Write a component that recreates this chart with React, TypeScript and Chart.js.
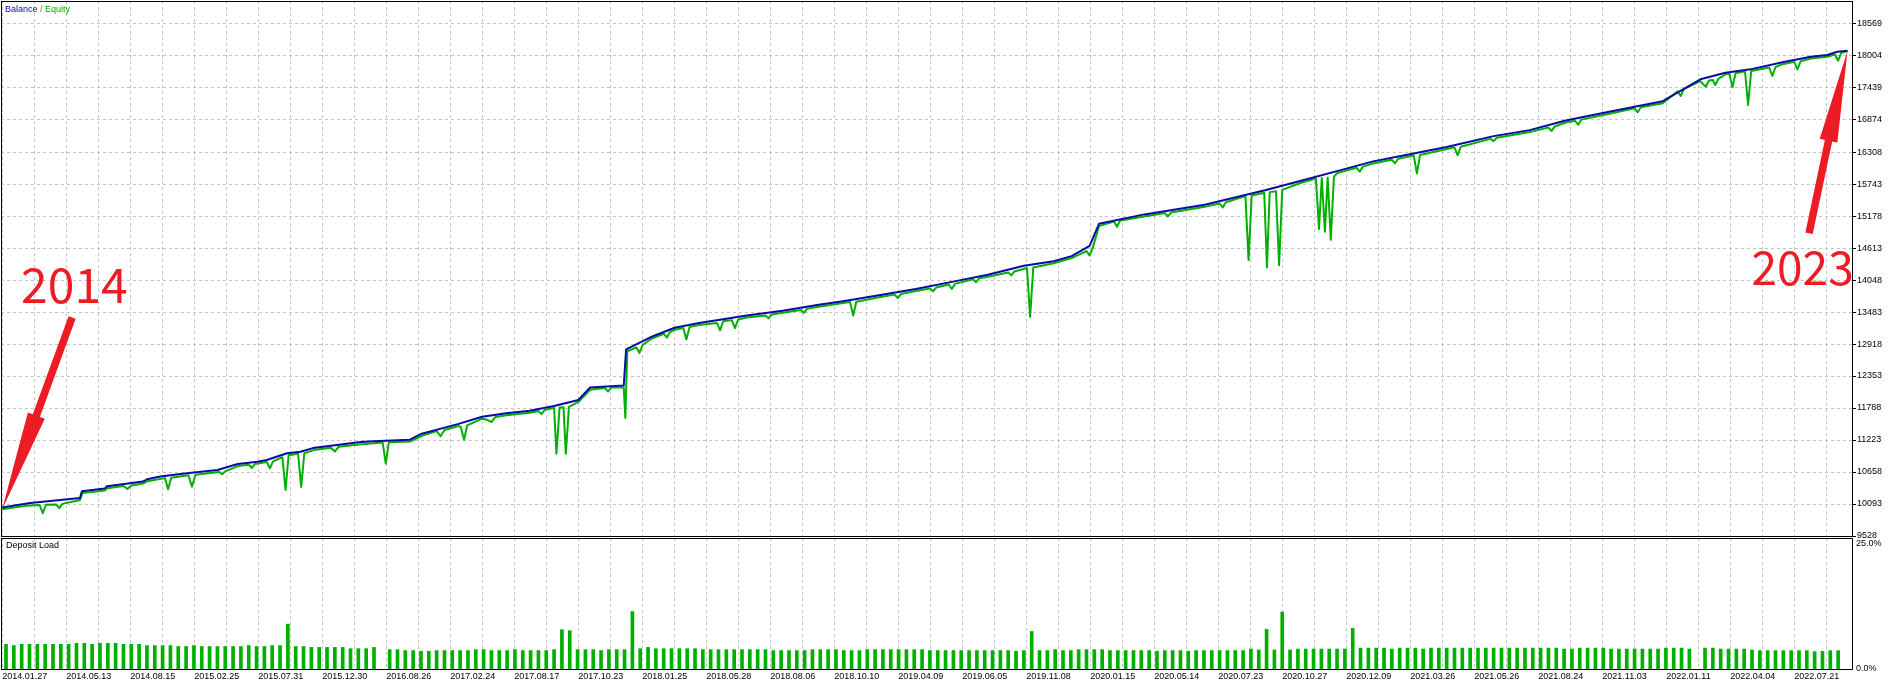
import React, { useEffect, useRef } from "react";
import { Chart, registerables } from "chart.js";

Chart.register(...registerables);

// ---------------- data ----------------
const yTickValues = [9528, 10093, 10658, 11223, 11788, 12353, 12918, 13483, 14048, 14613, 15178, 15743, 16308, 16874, 17439, 18004, 18569];
const loadTickValues = [0, 25];
const dateLabels = [
  "2014.01.27", "2014.05.13", "2014.08.15", "2015.02.25", "2015.07.31", "2015.12.30", "2016.08.26", "2017.02.24",
  "2017.08.17", "2017.10.23", "2018.01.25", "2018.05.28", "2018.08.06", "2018.10.10", "2019.04.09", "2019.06.05",
  "2019.11.08", "2020.01.15", "2020.05.14", "2020.07.23", "2020.10.27", "2020.12.09", "2021.03.26", "2021.05.26",
  "2021.08.24", "2021.11.03", "2022.01.11", "2022.04.04", "2022.07.21",
];

// [deal position, balance]
const balance: [number, number][] = [
  [-0.5, 10030], [3.1, 10110], [9.45, 10200], [9.7, 10320], [12.6, 10365], [12.9, 10405], [17.5, 10490], [18.0, 10530],
  [19.7, 10580], [23.1, 10635], [27.0, 10693], [29.6, 10800], [32.1, 10840], [33.3, 10870], [35.9, 10988], [37.6, 11017],
  [39.2, 11080], [45.3, 11186], [46.9, 11200], [51.6, 11228], [53.1, 11334], [57.7, 11504], [60.8, 11633], [63.9, 11696],
  [66.9, 11739], [70.0, 11824], [73.1, 11930], [74.6, 12150], [78.9, 12185], [79.2, 12823], [82.3, 13037], [85.4, 13206],
  [88.5, 13291], [91.6, 13356], [94.6, 13420], [99.2, 13505], [103.8, 13610], [106.9, 13674], [111.5, 13780], [116.2, 13888],
  [120.8, 14015], [125.4, 14140], [130.0, 14300], [133.8, 14380], [136.1, 14470], [138.4, 14651], [139.6, 15040], [145.4, 15207],
  [153.1, 15376], [160.8, 15632], [165.4, 15802], [170.0, 15971], [174.6, 16143], [179.3, 16270], [184.0, 16397], [190.0, 16589],
  [194.6, 16695], [199.2, 16865], [205.4, 17036], [211.6, 17206], [216.4, 17592], [219.6, 17709], [222.8, 17768], [226.9, 17893],
  [230.5, 17992], [232.6, 18021], [233.9, 18080], [235.2, 18098],
];

// [deal position, equity]
const equity: [number, number][] = [
  [-0.5, 10000], [2.5, 10060], [4.3, 10075], [4.7, 9930], [5.1, 10080], [6.4, 10085], [6.8, 10020], [7.2, 10095],
  [9.45, 10165], [9.75, 10285], [12.6, 10330], [12.95, 10370], [15.0, 10410], [15.5, 10360], [16.0, 10420], [17.5, 10455],
  [18.05, 10495], [20.3, 10550], [20.7, 10353], [21.1, 10555], [23.3, 10600], [23.75, 10400], [24.2, 10610], [27.2, 10660],
  [27.6, 10620], [28.0, 10670], [29.7, 10765], [31.0, 10785], [31.4, 10730], [31.8, 10800], [33.3, 10835], [33.7, 10725],
  [34.1, 10845], [35.3, 10920], [35.7, 10340], [36.1, 10955], [37.3, 10980], [37.7, 10393], [38.1, 10990], [39.3, 11045],
  [41.5, 11085], [42.0, 11020], [42.5, 11105], [45.4, 11150], [47.0, 11165], [48.1, 11180], [48.5, 10805], [48.9, 11185],
  [51.6, 11195], [53.2, 11300], [55.0, 11380], [55.5, 11290], [56.0, 11400], [57.8, 11470], [58.1, 11450], [58.5, 11228],
  [58.9, 11480], [60.8, 11600], [61.5, 11580], [62.0, 11540], [62.5, 11630], [63.9, 11660], [66.9, 11705], [68.0, 11735],
  [68.4, 11680], [68.8, 11755], [70.0, 11790], [70.3, 10980], [70.7, 11795], [71.2, 11800], [71.5, 10980], [71.9, 11810],
  [73.1, 11895], [74.6, 12110], [76.5, 12140], [76.9, 12080], [77.3, 12150], [78.9, 12150], [79.1, 11612], [79.35, 12790],
  [80.5, 12860], [80.9, 12760], [81.3, 12900], [82.3, 13000], [84.0, 13100], [84.4, 13030], [84.8, 13130], [85.4, 13170],
  [86.5, 13200], [86.9, 13000], [87.3, 13220], [88.5, 13255], [90.8, 13290], [91.2, 13160], [91.6, 13320], [92.7, 13340],
  [93.1, 13200], [93.5, 13350], [94.6, 13385], [97.0, 13420], [97.4, 13370], [97.8, 13440], [99.2, 13470], [101.5, 13520],
  [101.9, 13470], [102.3, 13540], [103.8, 13575], [106.9, 13640], [107.8, 13660], [108.2, 13420], [108.6, 13665], [111.5, 13745],
  [113.5, 13790], [113.9, 13730], [114.3, 13800], [116.2, 13853], [118.0, 13900], [118.4, 13850], [118.8, 13915], [120.4, 13970],
  [120.8, 13890], [121.2, 13980], [123.5, 14060], [123.9, 14010], [124.3, 14080], [125.4, 14105], [128.0, 14180], [128.4, 14130],
  [128.8, 14200], [130.4, 14260], [130.8, 13400], [131.2, 14270], [133.8, 14345], [136.1, 14435], [138.0, 14560], [138.4, 14480],
  [138.8, 14620], [139.6, 15000], [141.5, 15080], [141.9, 14990], [142.3, 15100], [145.4, 15170], [148.0, 15230], [148.4, 15170],
  [148.8, 15240], [153.1, 15340], [155.0, 15400], [155.4, 15330], [155.8, 15420], [158.3, 15530], [158.7, 14400], [159.1, 15540],
  [160.7, 15590], [161.05, 14270], [161.4, 15600], [162.2, 15615], [162.6, 14310], [163.0, 15640], [165.4, 15765], [167.3, 15840],
  [167.7, 14950], [168.05, 15850], [168.45, 14900], [168.8, 15860], [169.2, 14760], [169.6, 15870], [170.0, 15935], [172.5, 16030],
  [172.9, 15960], [173.3, 16050], [174.6, 16105], [177.0, 16170], [177.4, 16110], [177.8, 16190], [179.3, 16232], [179.8, 16245],
  [180.2, 15930], [180.6, 16255], [184.0, 16360], [185.0, 16390], [185.4, 16250], [185.8, 16400], [189.6, 16540], [190.0, 16500],
  [190.4, 16560], [194.6, 16660], [197.0, 16740], [197.4, 16680], [197.8, 16760], [199.2, 16830], [200.4, 16860], [200.8, 16790],
  [201.2, 16880], [205.4, 17000], [208.0, 17080], [208.4, 17010], [208.8, 17100], [211.6, 17170], [213.5, 17380], [213.9, 17300],
  [214.3, 17420], [216.4, 17560], [217.1, 17462], [217.5, 17570], [218.0, 17580], [218.3, 17492], [218.7, 17600], [219.6, 17680],
  [220.1, 17690], [220.5, 17451], [220.9, 17700], [222.1, 17735], [222.5, 17139], [222.9, 17740], [225.2, 17800], [225.6, 17651],
  [226.0, 17810], [226.9, 17860], [228.4, 17900], [228.8, 17768], [229.2, 17910], [230.5, 17960], [232.6, 17990], [233.6, 18030],
  [234.0, 17921], [234.4, 18060], [235.2, 18090],
];

// deposit load in %, one value per deal slot (null = no bar)
const depositLoad: (number | null)[] = [
  4.9, 4.65, 4.9, 4.9, 4.9, 4.9, 4.9, 4.9, 4.9, 5.1,
  5.1, 4.9, 5.1, 5.1, 5.1, 4.9, 4.9, 4.9, 4.65, 4.65,
  4.65, 4.65, 4.46, 4.46, 4.65, 4.46, 4.46, 4.46, 4.46, 4.46,
  4.46, 4.65, 4.46, 4.46, 4.65, 4.65, 8.9, 4.46, 4.46, 4.28,
  4.28, 4.28, 4.28, 4.28, 4.03, 4.03, 4.03, 4.28, null, 3.84,
  3.84, 3.66, 3.66, 3.53, 3.53, 3.66, 3.66, 3.66, 3.66, 3.66,
  3.84, 3.84, 3.66, 3.66, 3.66, 3.84, 3.66, 3.66, 3.66, 3.66,
  3.84, 7.8, 7.6, 3.84, 3.84, 3.84, 3.66, 3.84, 3.84, 3.84,
  11.4, 4.03, 4.28, 4.03, 4.03, 4.03, 4.03, 4.03, 4.03, 3.84,
  3.84, 3.84, 3.84, 3.84, 3.84, 3.84, 3.84, 3.84, 3.66, 3.66,
  3.66, 3.66, 3.66, 3.84, 3.84, 3.84, 3.84, 3.66, 3.66, 3.66,
  3.84, 3.84, 3.84, 3.84, 3.84, 3.84, 3.84, 3.84, 3.66, 3.66,
  3.66, 3.66, 3.66, 3.66, 3.66, 3.66, 3.66, 3.66, 3.66, 3.53,
  3.66, 7.44, 3.66, 3.66, 3.84, 3.66, 3.66, 3.84, 3.84, 3.84,
  3.84, 3.66, 3.66, 3.66, 3.66, 3.66, 3.66, 3.53, 3.66, 3.66,
  3.66, 3.53, 3.66, 3.66, 3.66, 3.66, 3.66, 3.66, 3.66, 3.96,
  3.77, 7.86, 3.77, 11.3, 3.77, 3.96, 3.96, 3.96, 3.96, 3.96,
  3.96, 3.96, 8.05, 4.15, 4.15, 4.15, 4.15, 3.96, 4.15, 4.15,
  4.15, 3.96, 4.15, 4.15, 4.15, 4.15, 4.15, 4.15, 4.15, 4.15,
  4.15, 4.15, 4.15, 4.15, 4.15, 4.15, 4.15, 4.15, 4.15, 3.96,
  3.96, 4.15, 4.15, 4.15, 4.15, 3.96, 3.96, 3.96, 3.96, 3.96,
  3.96, 3.96, 4.15, 4.15, 4.15, 3.96, null, 4.15, 4.15, 3.96,
  3.96, 3.96, 3.96, 3.77, 3.64, 3.64, 3.64, 3.64, 3.64, 3.64,
  3.64, 3.45, 3.51, 3.64, 3.64,
];

// ---------------- layout / style ----------------
const W = 1889;
const TOP_H = 541;
const PLOT_BOTTOM = 536;
const BOT_TOP = 537;
const BOT_H = 146;
const AXIS_W = 37;
const AREA_W = 1851;
const GRID_PX = 32;
const GRID_OFF_PX = 1.3;

const X_MIN = -0.64;
const X_MAX = 235.77;
const Y_MIN = 9528;
const Y_MAX = 18975;
const LOAD_MAX = 26;

const FONT = "'Liberation Sans', Arial, sans-serif";
const BLUE = "#0a0aa8";
const GREEN = "#00b000";
const SLASH = "#c07000";
const RED = "#ed1c24";
const GRID = "#c4c4c4";
const DASH = [3, 3];

const unitsPerPx = (X_MAX - X_MIN) / AREA_W;
const gridValues: number[] = [];
for (let k = 0; ; k++) {
  const v = X_MIN + (GRID_OFF_PX + GRID_PX * k) * unitsPerPx;
  if (v > X_MAX) break;
  gridValues.push(v);
}

function xScale(showLabels: boolean, height: number) {
  return {
    type: "linear" as const,
    min: X_MIN,
    max: X_MAX,
    offset: false,
    afterBuildTicks: (s: any) => {
      s.ticks = gridValues.map((v) => ({ value: v }));
    },
    afterFit: (s: any) => {
      s.height = height;
      s.paddingLeft = 0;
      s.paddingRight = 0;
    },
    grid: { display: true, color: GRID, lineWidth: 1, drawTicks: false, offset: false },
    border: { display: false, dash: DASH },
    ticks: {
      display: showLabels,
      autoSkip: false,
      maxRotation: 0,
      minRotation: 0,
      align: "start" as const,
      padding: 2,
      color: "#000",
      font: { family: FONT, size: 9 },
      callback: (_v: any, i: number) => (i % 2 === 0 ? dateLabels[i / 2] ?? "" : ""),
    },
  };
}

function drawArrow(ctx: CanvasRenderingContext2D, sx: number, sy: number, tx: number, ty: number, w: number, hl: number, hw: number) {
  const dx = tx - sx;
  const dy = ty - sy;
  const len = Math.hypot(dx, dy);
  const ux = dx / len;
  const uy = dy / len;
  const nx = -uy;
  const ny = ux;
  const bx = tx - ux * hl;
  const by = ty - uy * hl;
  ctx.beginPath();
  ctx.moveTo(sx + nx * w / 2, sy + ny * w / 2);
  ctx.lineTo(bx + nx * w / 2, by + ny * w / 2);
  ctx.lineTo(bx + nx * hw, by + ny * hw);
  ctx.lineTo(tx, ty);
  ctx.lineTo(bx - nx * hw, by - ny * hw);
  ctx.lineTo(bx - nx * w / 2, by - ny * w / 2);
  ctx.lineTo(sx - nx * w / 2, sy - ny * w / 2);
  ctx.closePath();
  ctx.fill();
}

const topDecor = {
  id: "topDecor",
  afterDraw(chart: any) {
    const { ctx, chartArea: a, scales } = chart;
    ctx.save();
    ctx.strokeStyle = "#000";
    ctx.lineWidth = 1;
    ctx.strokeRect(a.left + 0.5, a.top + 0.5, a.right - a.left, a.bottom - a.top);

    ctx.font = `9px ${FONT}`;
    ctx.textBaseline = "middle";
    ctx.textAlign = "left";
    let x = a.left + 4;
    const y = a.top + 9;
    const parts: [string, string][] = [["Balance", BLUE], [" / ", SLASH], ["Equity", GREEN]];
    for (const [t, c] of parts) {
      ctx.fillStyle = c;
      ctx.fillText(t, x, y);
      x += ctx.measureText(t).width;
    }

    // red annotations anchored at first and last balance points
    const first = balance[0];
    const last = balance[balance.length - 1];
    const t1x = scales.x.getPixelForValue(first[0]);
    const t1y = scales.y.getPixelForValue(first[1]) + 2;
    const t2x = scales.x.getPixelForValue(last[0]);
    const t2y = scales.y.getPixelForValue(last[1]);
    ctx.fillStyle = RED;
    drawArrow(ctx, t1x + 70, t1y - 192, t1x, t1y, 7.5, 100, 9);
    drawArrow(ctx, t2x - 38.5, t2y + 182.5, t2x, t2y, 7.5, 92, 9);
    ctx.textBaseline = "alphabetic";
    ctx.font = `48px 'Noto Sans CJK SC', 'Noto Sans', sans-serif`;
    ctx.fillText("2014", t1x + 19, t1y - 207);
    ctx.font = `46px 'Noto Sans CJK SC', 'Noto Sans', sans-serif`;
    ctx.fillText("2023", t2x - 96, t2y + 234);
    ctx.restore();
  },
};

const bottomDecor = {
  id: "bottomDecor",
  afterDraw(chart: any) {
    const { ctx, chartArea: a } = chart;
    ctx.save();
    ctx.strokeStyle = "#000";
    ctx.lineWidth = 1;
    ctx.strokeRect(a.left + 0.5, a.top + 0.5, a.right - a.left, a.bottom - a.top);
    ctx.font = `9px ${FONT}`;
    ctx.fillStyle = "#000";
    ctx.textBaseline = "middle";
    ctx.textAlign = "left";
    ctx.fillText("Deposit Load", a.left + 5, a.top + 8);
    ctx.restore();
  },
};

export default function App() {
  const topRef = useRef<HTMLCanvasElement>(null);
  const botRef = useRef<HTMLCanvasElement>(null);

  useEffect(() => {
    document.body.style.margin = "0";
    const top = new Chart(topRef.current!, {
      type: "line",
      data: {
        datasets: [
          {
            label: "Balance",
            data: balance.map(([x, y]) => ({ x, y })),
            borderColor: BLUE,
            borderWidth: 2,
            pointRadius: 0,
            tension: 0,
            fill: false,
            borderJoinStyle: "round",
          },
          {
            label: "Equity",
            data: equity.map(([x, y]) => ({ x, y })),
            borderColor: GREEN,
            borderWidth: 2,
            pointRadius: 0,
            tension: 0,
            fill: false,
            borderJoinStyle: "round",
          },
        ],
      },
      options: {
        animation: false,
        responsive: false,
        maintainAspectRatio: false,
        events: [],
        layout: { padding: { left: 1, top: 1, right: 0, bottom: TOP_H - PLOT_BOTTOM } },
        plugins: { legend: { display: false }, tooltip: { enabled: false } },
        scales: {
          x: xScale(false, 0) as any,
          y: {
            type: "linear",
            position: "right",
            min: Y_MIN,
            max: Y_MAX,
            afterBuildTicks: (s: any) => {
              s.ticks = yTickValues.map((v) => ({ value: v }));
            },
            afterFit: (s: any) => {
              s.width = AXIS_W;
              s.paddingTop = 0;
              s.paddingBottom = 0;
            },
            grid: { color: GRID, lineWidth: 1, drawTicks: true, tickLength: 4, tickColor: "#000", tickWidth: 1, tickBorderDash: [] } as any,
            border: { display: false, dash: DASH },
            ticks: { padding: 1, color: "#000", font: { family: FONT, size: 9 }, callback: (v: any) => String(v) },
          },
        },
      },
      plugins: [topDecor],
    });

    const bot = new Chart(botRef.current!, {
      type: "bar",
      data: {
        datasets: [
          {
            label: "Deposit Load",
            data: depositLoad
              .map((v, i) => (v == null ? null : { x: i, y: v }))
              .filter((p) => p !== null) as any,
            backgroundColor: GREEN,
            borderWidth: 0,
            barThickness: 3,
          },
        ],
      },
      options: {
        animation: false,
        responsive: false,
        maintainAspectRatio: false,
        events: [],
        layout: { padding: { left: 1, top: 1, right: 0, bottom: 0 } },
        plugins: { legend: { display: false }, tooltip: { enabled: false } },
        scales: {
          x: xScale(true, 14) as any,
          y: {
            type: "linear",
            position: "right",
            min: 0,
            max: LOAD_MAX,
            afterBuildTicks: (s: any) => {
              s.ticks = loadTickValues.map((v) => ({ value: v }));
            },
            afterFit: (s: any) => {
              s.width = AXIS_W;
              s.paddingTop = 0;
              s.paddingBottom = 0;
            },
            grid: { display: false, drawTicks: false },
            border: { display: false },
            ticks: { padding: 4, color: "#000", font: { family: FONT, size: 9 }, callback: (v: any) => Number(v).toFixed(1) + "%" },
          },
        },
      },
      plugins: [bottomDecor],
    });

    return () => {
      top.destroy();
      bot.destroy();
    };
  }, []);

  return (
    <div style={{ position: "relative", width: W, height: 683, background: "#fff", overflow: "hidden" }}>
      <canvas ref={topRef} width={W} height={TOP_H} style={{ position: "absolute", left: 0, top: 0, width: W, height: TOP_H }} />
      <canvas ref={botRef} width={W} height={BOT_H} style={{ position: "absolute", left: 0, top: BOT_TOP, width: W, height: BOT_H }} />
    </div>
  );
}
